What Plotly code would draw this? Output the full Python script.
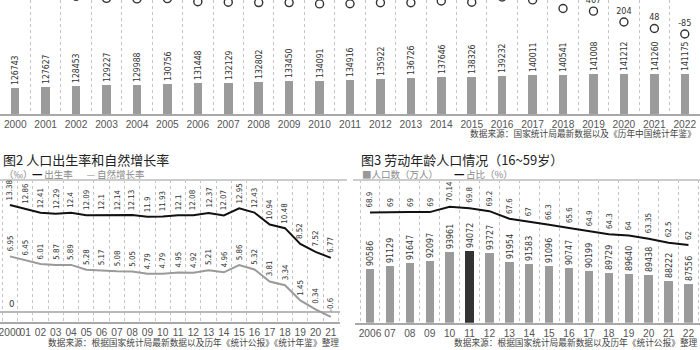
import plotly.graph_objects as go

# ---------------- data ----------------
years1 = [str(y) for y in range(2000, 2023)]
population = [126743, 127627, 128453, 129227, 129988, 130756, 131448, 132129,
              132802, 133450, 134091, 134916, 135922, 136726, 137646, 138326,
              139232, 140011, 140541, 141008, 141212, 141260, 141175]
net_increase = [957, 884, 826, 774, 761, 768, 692, 681, 673, 672, 641, 644,
                669, 668, 710, 680, 809, 737, 530, 467, 204, 48, -85]

years2 = ["2000", "01", "02", "03", "04", "05", "06", "07", "08", "09", "10",
          "11", "12", "13", "14", "15", "16", "17", "18", "19", "20", "21"]
birth_rate = [13.38, 12.86, 12.41, 12.29, 12.4, 12.09, 12.1, 12.14, 12.13, 11.9,
              11.93, 12.1, 12.08, 12.37, 12.07, 12.95, 12.43, 10.94, 10.48,
              8.52, 7.52, 6.77]
natural_rate = [6.95, 6.45, 6.01, 5.87, 5.89, 5.28, 5.17, 5.08, 5.05, 4.79,
                4.79, 4.95, 4.92, 5.21, 4.96, 5.86, 5.32, 3.81, 3.34, 1.45,
                0.34, -0.6]

years3 = ["2006", "07", "08", "09", "10", "11", "12", "13", "14", "15", "16",
          "17", "18", "19", "20", "21", "22"]
labor_pop = [90586, 91129, 91647, 92097, 93961, 94072, 93727, 91954, 91583,
             91096, 90747, 90199, 89729, 89640, 89438, 88222, 87556]
labor_share = [68.9, 69, 69, 69, 70.14, 69.8, 69.2, 67.6, 67, 66.3, 65.6, 64.9,
               64.3, 64, 63.35, 62.5, 62]
highlight_year = "11"

title2 = "图2 人口出生率和自然增长率"
title3 = "图3 劳动年龄人口情况（16~59岁）"
source1 = "数据来源：国家统计局最新数据以及《历年中国统计年鉴》"
source2 = "数据来源：根据国家统计局最新数据以及历年《统计公报》《统计年鉴》整理"
source3 = "数据来源：根据国家统计局最新数据以及历年《统计公报》整理"

# ---------------- styles ----------------
NUM_FONT = "Liberation Sans Narrow, Arial Narrow, DejaVu Sans Condensed, sans-serif"
TICK_FONT = "Liberation Sans, Arial, sans-serif"
CJK = "Noto Sans CJK SC, sans-serif"
BAR_GRAY = "#9b9b9b"
TXT = "#333333"

H = 350.0
W = 700.0


def py(p):
    return 1 - p / H


def fmt(v):
    return f"{v:g}"


fig = go.Figure()

# ---- Figure 1: population bars + net increase circles ----
fig.add_trace(go.Bar(
    x=years1, y=population, xaxis="x", yaxis="y",
    marker=dict(color=BAR_GRAY, line=dict(width=0)), width=0.28,
    text=[str(v) for v in population], textposition="outside", textangle=-90,
    constraintext="none", cliponaxis=False,
    textfont=dict(family=NUM_FONT, size=8.6, color=TXT), showlegend=False))
fig.add_trace(go.Scatter(
    x=years1, y=net_increase, xaxis="x", yaxis="y2", mode="markers+text",
    marker=dict(symbol="circle-open", size=8, color="#333", line=dict(width=1.4)),
    text=[fmt(v) for v in net_increase], textposition="top center",
    textfont=dict(family=NUM_FONT, size=9, color=TXT), showlegend=False))

# ---- Figure 2: birth rate / natural growth rate ----
fig.add_trace(go.Scatter(
    x=years2, y=birth_rate, xaxis="x2", yaxis="y3", mode="lines",
    line=dict(color="#111111", width=2), showlegend=False))
fig.add_trace(go.Scatter(
    x=years2, y=natural_rate, xaxis="x2", yaxis="y3", mode="lines",
    line=dict(color="#9a9a9a", width=2), showlegend=False))

# ---- Figure 3: working-age population ----
fig.add_trace(go.Bar(
    x=years3, y=labor_pop, xaxis="x3", yaxis="y4",
    marker=dict(color=["#333333" if y == highlight_year else BAR_GRAY for y in years3],
                line=dict(width=0)), width=0.42,
    text=[str(v) for v in labor_pop], textposition="outside", textangle=-90,
    constraintext="none", cliponaxis=False,
    textfont=dict(family=NUM_FONT, size=8.8, color=TXT), showlegend=False))
fig.add_trace(go.Scatter(
    x=years3, y=labor_share, xaxis="x3", yaxis="y5", mode="lines",
    line=dict(color="#111111", width=2), showlegend=False))

lab_font = dict(family=NUM_FONT, size=7.9, color=TXT)
annotations = []
for i, v in enumerate(birth_rate):
    annotations.append(dict(x=i, y=v, xref="x2", yref="y3", text=fmt(v),
                            textangle=-90, showarrow=False, yanchor="bottom",
                            xanchor="center", yshift=3, font=lab_font))
for i, v in enumerate(natural_rate):
    annotations.append(dict(x=i, y=v, xref="x2", yref="y3", text=fmt(v),
                            textangle=-90, showarrow=False, yanchor="bottom",
                            xanchor="center", yshift=3, font=lab_font))
for i, v in enumerate(labor_share):
    annotations.append(dict(x=i, y=v, xref="x3", yref="y5", text=fmt(v),
                            textangle=-90, showarrow=False, yanchor="bottom",
                            xanchor="center", yshift=3, font=lab_font))
annotations.append(dict(x=0.1, y=0, xref="x2", yref="y3", text="0",
                        showarrow=False, yanchor="bottom", xanchor="center",
                        yshift=1, font=dict(family=NUM_FONT, size=9.5, color=TXT)))

# titles, legends, sources
annotations += [
    dict(x=1 / W, y=py(160), xref="paper", yref="paper", text=title2,
         showarrow=False, xanchor="left", yanchor="middle",
         font=dict(family=CJK, size=13, color="#222")),
    dict(x=359 / W, y=py(160), xref="paper", yref="paper", text=title3,
         showarrow=False, xanchor="left", yanchor="middle",
         font=dict(family=CJK, size=13, color="#222")),
    dict(x=2 / W, y=py(174), xref="paper", yref="paper",
         text="（‰）<span style='color:#111'>━</span> 出生率 　 <span style='color:#999'>—</span> 自然增长率",
         showarrow=False, xanchor="left", yanchor="middle",
         font=dict(family=CJK, size=9.5, color="#888")),
    dict(x=360 / W, y=py(174), xref="paper", yref="paper",
         text="<span style='color:#999'>■</span>人口数（万人）　　 <span style='color:#111'>━</span> 占比（%）",
         showarrow=False, xanchor="left", yanchor="middle",
         font=dict(family=CJK, size=9.5, color="#888")),
    dict(x=698 / W, y=py(134), xref="paper", yref="paper", text=source1,
         showarrow=False, xanchor="right", yanchor="middle",
         font=dict(family=CJK, size=8.7, color="#444")),
    dict(x=341 / W, y=py(342), xref="paper", yref="paper", text=source2,
         showarrow=False, xanchor="right", yanchor="middle",
         font=dict(family=CJK, size=8.7, color="#444")),
    dict(x=700 / W, y=py(342), xref="paper", yref="paper", text=source3,
         showarrow=False, xanchor="right", yanchor="middle",
         font=dict(family=CJK, size=8.7, color="#444")),
]

shapes = [
    dict(type="line", xref="paper", yref="paper", x0=0, x1=347 / W,
         y0=py(180), y1=py(180), line=dict(color="#cccccc", width=2)),
    dict(type="line", xref="paper", yref="paper", x0=353 / W, x1=1,
         y0=py(180), y1=py(180), line=dict(color="#cccccc", width=2)),
]

xcommon = dict(type="category", tickson="boundaries", showgrid=True,
               gridcolor="#c4c4c4", griddash="dot", gridwidth=1,
               showline=True, linecolor="#a8a8a8", linewidth=1.5, ticks="",
               tickangle=0,
               tickfont=dict(family=TICK_FONT, size=10.2, color="#555"),
               zeroline=False, fixedrange=True)
yhidden = dict(showgrid=False, showticklabels=False, zeroline=False,
               showline=False, ticks="", fixedrange=True)

fig.update_layout(
    width=700, height=350, margin=dict(l=0, r=0, t=0, b=0),
    paper_bgcolor="white", plot_bgcolor="white", showlegend=False,
    xaxis=dict(xcommon, domain=[0, 1], range=[-0.5, 22.5], anchor="y"),
    yaxis=dict(yhidden, domain=[py(114), 1], range=[99030, 219156], anchor="x"),
    yaxis2=dict(yhidden, overlaying="y", range=[-2011, 735], anchor="x"),
    xaxis2=dict(xcommon, domain=[0, 340 / W], range=[-0.65, 21.6], anchor="y3"),
    yaxis3=dict(yhidden, domain=[py(322), py(180)], range=[-1.25, 16.5],
                anchor="x2", zeroline=True, zerolinecolor="#b8b8b8",
                zerolinewidth=2),
    xaxis3=dict(xcommon, domain=[355 / W, 1], range=[-0.754, 16.58], anchor="y4"),
    yaxis4=dict(yhidden, domain=[py(322.7), py(180)], range=[80040, 107970],
                anchor="x3"),
    yaxis5=dict(yhidden, overlaying="y4", range=[45.47, 75.83], anchor="x3"),
    annotations=annotations, shapes=shapes, bargap=0,
)

fig.write_html("out.html")
